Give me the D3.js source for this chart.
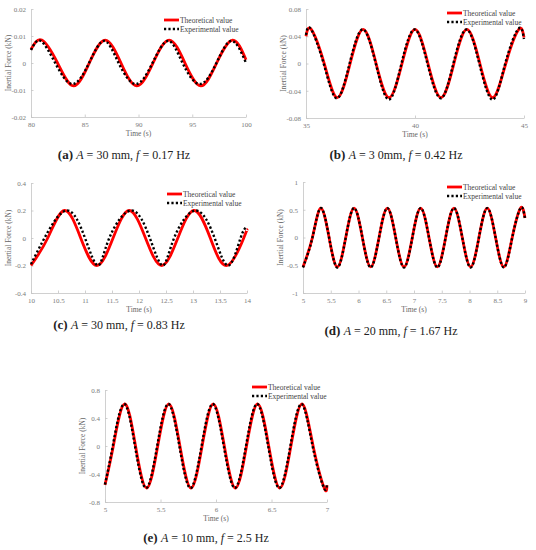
<!DOCTYPE html>
<html>
<head>
<meta charset="utf-8">
<script src="https://cdn.jsdelivr.net/npm/d3@7"></script>
<style>
    body { margin: 0; background: #fff; }
    #chart { width: 536px; height: 550px; }
    .tick text { font-family: "Liberation Serif", serif; font-size: 7px; fill: #7a7a7a; }
    .axis-title { font-family: "Liberation Serif", serif; font-size: 7.5px; fill: #666; }
    .legend-text { font-family: "Liberation Serif", serif; font-size: 7.5px; fill: #444; }
    .caption { font-family: "Liberation Serif", serif; font-size: 12px; fill: #222; }
</style>
</head>
<body>
<div id="chart"></div>
<script>
// ---- data (time in s, force in kN) ----

// (a) A = 30 mm, f = 0.17 Hz
const aTheoTime = [80, 81.0, 82.47, 83.95, 85.42, 86.9, 88.37, 89.85, 91.35, 92.85, 94.32, 95.8, 97.27, 98.75, 100];
const aTheoForce = [0.005, 0.0085, 0, -0.0085, 0, 0.0085, 0, -0.0085, 0, 0.0085, 0, -0.0085, 0, 0.0085, 0.0012];
const aExpTime = [80, 80.9, 82.25, 83.85, 85.4, 86.8, 88.15, 89.75, 91.3, 92.75, 94.1, 95.7, 97.25, 98.65, 100];
const aExpForce = [0.0048, 0.0082, 0, -0.0078, 0, 0.0082, 0, -0.0078, 0, 0.0082, 0, -0.0078, 0, 0.0082, 0];

// (b) A = 30 mm, f = 0.42 Hz
const bTheoTime = [35, 35.24, 35.835, 36.43, 37.025, 37.62, 38.215, 38.81, 39.405, 40.0, 40.595, 41.19, 41.785, 42.38, 42.975, 43.57, 44.165, 44.76, 45];
const bTheoForce = [0.040, 0.050, 0, -0.050, 0, 0.050, 0, -0.050, 0, 0.050, 0, -0.050, 0, 0.050, 0, -0.050, 0, 0.050, 0.038];
const bExpTime = [35, 35.22, 35.81, 36.41, 37.0, 37.6, 38.2, 38.8, 39.38, 39.98, 40.57, 41.18, 41.76, 42.36, 42.95, 43.56, 44.14, 44.74, 45];
const bExpForce = [0.042, 0.051, 0, -0.051, 0, 0.050, 0, -0.053, 0, 0.050, 0, -0.051, 0, 0.050, 0, -0.053, 0, 0.051, 0.036];

// (c) A = 30 mm, f = 0.83 Hz
const cTheoTime = [10, 10.31, 10.62, 10.92, 11.22, 11.52, 11.82, 12.12, 12.42, 12.72, 13.02, 13.32, 13.63, 13.94, 14];
const cTheoForce = [-0.2, 0, 0.2, 0, -0.2, 0, 0.2, 0, -0.2, 0, 0.2, 0, -0.2, 0, 0.06];
const cExpTime = [10, 10.25, 10.66, 11.0, 11.24, 11.45, 11.86, 12.2, 12.44, 12.65, 13.05, 13.4, 13.66, 13.88, 14];
const cExpForce = [-0.19, 0, 0.2, 0, -0.2, 0, 0.2, 0, -0.2, 0, 0.2, 0, -0.2, 0, 0.08];

// (d) A = 20 mm, f = 1.67 Hz
const dTheoTime = [5, 5.17, 5.32, 5.47, 5.62, 5.77, 5.92, 6.07, 6.22, 6.37, 6.52, 6.67, 6.82, 6.97, 7.12, 7.27, 7.42, 7.57, 7.72, 7.87, 8.02, 8.17, 8.32, 8.47, 8.62, 8.77, 8.92, 9];
const dTheoForce = [-0.53, 0, 0.53, 0, -0.53, 0, 0.53, 0, -0.53, 0, 0.53, 0, -0.53, 0, 0.53, 0, -0.53, 0, 0.53, 0, -0.53, 0, 0.53, 0, -0.53, 0, 0.53, 0.35];
const dExpTime = [5, 5.17, 5.32, 5.47, 5.62, 5.77, 5.92, 6.07, 6.22, 6.37, 6.52, 6.67, 6.82, 6.97, 7.12, 7.27, 7.42, 7.57, 7.72, 7.87, 8.02, 8.17, 8.32, 8.47, 8.62, 8.77, 8.92, 9];
const dExpForce = [-0.54, 0, 0.53, 0, -0.54, 0, 0.53, 0, -0.54, 0, 0.53, 0, -0.54, 0, 0.53, 0, -0.54, 0, 0.53, 0, -0.54, 0, 0.53, 0, -0.54, 0, 0.53, 0.34];

// (e) A = 10 mm, f = 2.5 Hz
const eTheoTime = [5, 5.075, 5.175, 5.275, 5.375, 5.475, 5.575, 5.675, 5.775, 5.875, 5.975, 6.075, 6.175, 6.275, 6.375, 6.475, 6.575, 6.675, 6.775, 6.875, 6.975, 7];
const eTheoForce = [-0.555, 0, 0.6, 0, -0.6, 0, 0.6, 0, -0.6, 0, 0.6, 0, -0.6, 0, 0.6, 0, -0.6, 0, 0.6, 0, -0.6, -0.56];
const eExpTime = [5, 5.07, 5.17, 5.27, 5.37, 5.47, 5.57, 5.67, 5.77, 5.87, 5.97, 6.07, 6.17, 6.27, 6.37, 6.47, 6.57, 6.67, 6.77, 6.87, 6.97, 7];
const eExpForce = [-0.55, 0, 0.6, 0, -0.6, 0, 0.6, 0, -0.6, 0, 0.6, 0, -0.6, 0, 0.6, 0, -0.6, 0, 0.6, 0, -0.59, -0.53];

// axis ticks
const aXTicks = [80, 85, 90, 95, 100];
const aYTicks = [-0.02, -0.01, 0, 0.01, 0.02];
const bXTicks = [35, 40, 45];
const bYTicks = [-0.08, -0.04, 0, 0.04, 0.08];
const cXTicks = [10, 10.5, 11, 11.5, 12, 12.5, 13, 13.5, 14];
const cYTicks = [-0.4, -0.2, 0, 0.2, 0.4];
const dXTicks = [5, 5.5, 6, 6.5, 7, 7.5, 8, 8.5, 9];
const dYTicks = [-1, -0.5, 0, 0.5, 1];
const eXTicks = [5, 5.5, 6, 6.5, 7];
const eYTicks = [-0.8, -0.4, 0, 0.4, 0.8];

// caption pieces: label, amplitude, frequency
const captionLabels = ["(a)", "(b)", "(c)", "(d)", "(e)"];
const captionAmps = ["30 mm", "3 0mm", "30 mm", "20 mm", "10 mm"];
const captionFreqs = ["0.17 Hz", "0.42 Hz", "0.83 Hz", "1.67 Hz", "2.5 Hz"];

const legendLabels = ["Theoretical value", "Experimental value"];

const SERIF = "'Liberation Serif', 'Times New Roman', serif";

/**
 * One small time history panel: theoretical vs experimental inertial force
 */
class ForcePanel {
    constructor(svg, cfg) {
        this.svg = svg;
        this.cfg = cfg;
        this.initVis();
    }

    initVis() {
        let vis = this;
        let c = vis.cfg;

        vis.g = vis.svg.append("g");

        vis.x = d3.scaleLinear().domain(d3.extent(c.xTicks)).range([c.left, c.right]);
        vis.y = d3.scaleLinear().domain(d3.extent(c.yTicks)).range([c.bottom, c.top]);

        // axes, MATLAB style: ticks pointing in, box off
        let xAxis = d3.axisBottom(vis.x).tickValues(c.xTicks).tickSizeInner(-2.5).tickSizeOuter(0).tickPadding(5)
            .tickFormat(d => String(d));
        let yAxis = d3.axisLeft(vis.y).tickValues(c.yTicks).tickSizeInner(-2.5).tickSizeOuter(0).tickPadding(5)
            .tickFormat(d => String(d));

        vis.g.append("g")
            .attr("transform", `translate(0,${c.bottom})`)
            .call(xAxis)
            .attr("font-family", SERIF)
            .call(g => g.selectAll(".domain, line").attr("stroke", "#c4c4c4").attr("stroke-width", 0.8));

        vis.g.append("g")
            .attr("transform", `translate(${c.left},0)`)
            .call(yAxis)
            .attr("font-family", SERIF)
            .call(g => g.selectAll(".domain, line").attr("stroke", "#c4c4c4").attr("stroke-width", 0.8));

        vis.g.selectAll(".tick text").attr("font-family", SERIF);

        // axis titles
        vis.g.append("text")
            .attr("class", "axis-title")
            .attr("font-family", SERIF)
            .attr("x", (c.left + c.right) / 2)
            .attr("y", c.bottom + 19)
            .attr("text-anchor", "middle")
            .text("Time (s)");

        vis.g.append("text")
            .attr("class", "axis-title")
            .attr("font-family", SERIF)
            .attr("transform", `translate(${c.left - 20},${(c.top + c.bottom) / 2}) rotate(-90)`)
            .attr("text-anchor", "middle")
            .text("Inertial Force (kN)");

        vis.line = d3.line()
            .x(d => vis.x(d[0]))
            .y(d => vis.y(d[1]))
            .curve(d3.curveNatural);

        vis.updateVis();
    }

    updateVis() {
        let vis = this;
        let c = vis.cfg;

        let theo = d3.zip(c.theoTime, c.theoForce);
        let exp = d3.zip(c.expTime, c.expForce);

        vis.g.append("path")
            .datum(theo)
            .attr("d", vis.line)
            .attr("fill", "none")
            .attr("stroke", "#ff0000")
            .attr("stroke-width", 2.8);

        vis.g.append("path")
            .datum(exp)
            .attr("d", vis.line)
            .attr("fill", "none")
            .attr("stroke", "#000")
            .attr("stroke-width", 2.4)
            .attr("stroke-dasharray", "2.2,2.2");

        // legend
        let leg = vis.g.append("g").attr("transform", `translate(${c.legX},${c.legY})`);
        leg.append("line").attr("x1", 0).attr("x2", 15).attr("y1", 0).attr("y2", 0)
            .attr("stroke", "#ff0000").attr("stroke-width", 2.8);
        leg.append("line").attr("x1", 0).attr("x2", 15).attr("y1", 9).attr("y2", 9)
            .attr("stroke", "#000").attr("stroke-width", 2.4).attr("stroke-dasharray", "2.2,2.2");
        leg.selectAll(".legend-text")
            .data(legendLabels)
            .enter().append("text")
            .attr("class", "legend-text")
            .attr("font-family", SERIF)
            .attr("x", 16)
            .attr("y", (d, i) => i * 9 + 2.5)
            .text(d => d);

        // caption
        let cap = vis.g.append("text")
            .attr("class", "caption")
            .attr("font-family", SERIF)
            .attr("x", c.capX)
            .attr("y", c.capY)
            .attr("text-anchor", "middle");
        cap.append("tspan").attr("font-weight", "bold").attr("font-size", "13px").text(captionLabels[c.idx] + " ");
        cap.append("tspan").attr("font-style", "italic").text("A");
        cap.append("tspan").text(` = ${captionAmps[c.idx]}, `);
        cap.append("tspan").attr("font-style", "italic").text("f");
        cap.append("tspan").text(` = ${captionFreqs[c.idx]}`);
    }
}

const svg = d3.select("#chart").append("svg")
    .attr("width", 536)
    .attr("height", 550);

const panels = [
    { idx: 0, left: 31, right: 246, top: 9, bottom: 117, xTicks: aXTicks, yTicks: aYTicks,
      theoTime: aTheoTime, theoForce: aTheoForce, expTime: aExpTime, expForce: aExpForce,
      legX: 164, legY: 20, capX: 124, capY: 159 },
    { idx: 1, left: 306, right: 524, top: 9, bottom: 118, xTicks: bXTicks, yTicks: bYTicks,
      theoTime: bTheoTime, theoForce: bTheoForce, expTime: bExpTime, expForce: bExpForce,
      legX: 447, legY: 13, capX: 396, capY: 159 },
    { idx: 2, left: 31, right: 247, top: 183, bottom: 293, xTicks: cXTicks, yTicks: cYTicks,
      theoTime: cTheoTime, theoForce: cTheoForce, expTime: cExpTime, expForce: cExpForce,
      legX: 167, legY: 194, capX: 119, capY: 329 },
    { idx: 3, left: 303, right: 525, top: 182, bottom: 293, xTicks: dXTicks, yTicks: dYTicks,
      theoTime: dTheoTime, theoForce: dTheoForce, expTime: dExpTime, expForce: dExpForce,
      legX: 447, legY: 187, capX: 391, capY: 335 },
    { idx: 4, left: 105, right: 327, top: 390, bottom: 502, xTicks: eXTicks, yTicks: eYTicks,
      theoTime: eTheoTime, theoForce: eTheoForce, expTime: eExpTime, expForce: eExpForce,
      legX: 252, legY: 387, capX: 206, capY: 542 }
];

panels.forEach(p => new ForcePanel(svg, p));
</script>
</body>
</html>
